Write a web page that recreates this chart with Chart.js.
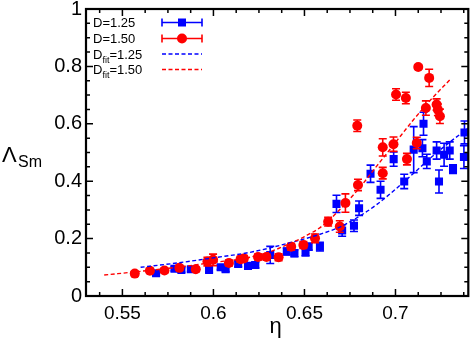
<!DOCTYPE html>
<html>
<head>
<meta charset="utf-8">
<script src="https://cdn.jsdelivr.net/npm/chart.js@4.4.0/dist/chart.umd.min.js"></script>
<style>
  html, body { margin: 0; padding: 0; background: #fff; }
  #wrap { position: relative; width: 474px; height: 342px; font-family: "Liberation Sans", Arial, Helvetica, sans-serif; color: #000; }
  .lbl { position: absolute; white-space: nowrap; }
  .key { position: absolute; left: 93px; height: 13px; font-size: 13px; line-height: 13px; white-space: nowrap; }
  .key span { font-size: 9px; position: relative; top: 4px; }
</style>
</head>
<body>
<div id="wrap">
<canvas id="myChart" width="474" height="342"></canvas>
<div class="lbl" style="left:255px; width:41px; top:315px; font-size:22px; line-height:22px; text-align:center;">η</div>
<div class="lbl" style="left:2px; top:144px; font-size:22px; line-height:22px;">Λ</div>
<div class="lbl" style="left:18px; top:154px; font-size:16px; line-height:16px;">Sm</div>
<div class="key" style="top:16px;">D=1.25</div>
<div class="key" style="top:32px;">D=1.50</div>
<div class="key" style="top:47.5px;">D<span>fit</span>=1.25</div>
<div class="key" style="top:63px;">D<span>fit</span>=1.50</div>
</div>
<script>
// D=1.25 (blue squares)
var blueX = [0.5685, 0.5786, 0.5824, 0.5876, 0.5976, 0.604, 0.6067, 0.6136, 0.619, 0.623,
             0.6312, 0.6403, 0.6445, 0.6506, 0.6523, 0.6585, 0.6676, 0.6707, 0.6772, 0.680,
             0.6863, 0.6918, 0.699, 0.7048, 0.710, 0.7148, 0.7154, 0.7172, 0.7226, 0.7239,
             0.7267, 0.7298, 0.7316, 0.7376, 0.7379];
var blueY = [0.079, 0.095, 0.091, 0.093, 0.091, 0.100, 0.093, 0.112, 0.105, 0.108,
             0.143, 0.155, 0.149, 0.152, 0.172, 0.172, 0.321, 0.228, 0.245, 0.306,
             0.426, 0.370, 0.477, 0.399, 0.510, 0.515, 0.600, 0.469, 0.507, 0.399,
             0.492, 0.507, 0.442, 0.484, 0.570];
var blueErr = [0.008, 0.008, 0.008, 0.008, 0.008, 0.008, 0.008, 0.01, 0.01, 0.01,
               0.03, 0.012, 0.012, 0.012, 0.012, 0.015, 0.03, 0.02, 0.02, 0.025,
               0.03, 0.03, 0.025, 0.025, 0.08, 0.03, 0.04, 0.025, 0.03, 0.04,
               0.04, 0.03, 0.015, 0.04, 0.04];

// D=1.50 (red circles)
var redX = [0.5568, 0.5651, 0.5731, 0.5813, 0.5903, 0.5967, 0.5998, 0.6085, 0.6149, 0.6167,
            0.6245, 0.6291, 0.6358, 0.6427, 0.6494, 0.6558, 0.663, 0.6694, 0.6725, 0.6794,
            0.679, 0.693, 0.693, 0.6989, 0.7003, 0.7057, 0.7063, 0.7117, 0.7125, 0.7167,
            0.7185, 0.7226, 0.7233, 0.7244];
var redY = [0.078, 0.088, 0.089, 0.098, 0.093, 0.120, 0.126, 0.115, 0.128, 0.131,
            0.136, 0.136, 0.135, 0.172, 0.178, 0.201, 0.259, 0.242, 0.324, 0.387,
            0.593, 0.428, 0.518, 0.529, 0.702, 0.690, 0.477, 0.533, 0.798, 0.655,
            0.760, 0.667, 0.649, 0.626];
var redErr = [0.008, 0.008, 0.008, 0.008, 0.008, 0.015, 0.02, 0.01, 0.01, 0.01,
              0.01, 0.01, 0.012, 0.012, 0.012, 0.015, 0.015, 0.02, 0.032, 0.02,
              0.02, 0.02, 0.03, 0.025, 0.02, 0.02, 0.02, 0.02, 0.008, 0.025,
              0.03, 0.02, 0.02, 0.025];

// fitted curves
var fitBlueX = [0.56, 0.58, 0.60, 0.62, 0.64, 0.66, 0.67, 0.68, 0.69, 0.70, 0.71, 0.72, 0.73, 0.74];
var fitBlueY = [0.100, 0.115, 0.133, 0.152, 0.182, 0.218, 0.242, 0.277, 0.320, 0.372, 0.428, 0.485, 0.537, 0.585];
var fitRedX = [0.54, 0.56, 0.58, 0.60, 0.617, 0.63, 0.64, 0.65, 0.66, 0.67, 0.68, 0.69, 0.70, 0.71, 0.72, 0.73];
var fitRedY = [0.073, 0.086, 0.100, 0.117, 0.131, 0.152, 0.177, 0.207, 0.245, 0.305, 0.375, 0.455, 0.535, 0.615, 0.688, 0.754];

var xTicks = [0.55, 0.6, 0.65, 0.7];
var yTicks = [0, 0.2, 0.4, 0.6, 0.8, 1];

var FONT = '"Liberation Sans", Arial, Helvetica, sans-serif';

function pairs(xs, ys) {
    return xs.map(function (v, i) { return { x: v, y: ys[i] }; });
}

// vertical error bars under each dataset's markers
var errorBars = {
    id: 'errorBars',
    beforeDatasetDraw: function (chart, args) {
        var ds = chart.data.datasets[args.index];
        if (!ds.errors) return;
        var c = chart.ctx;
        var ys = chart.scales.y;
        c.save();
        c.strokeStyle = ds.borderColor;
        c.lineWidth = 1.6;
        args.meta.data.forEach(function (pt, i) {
            var v = ds.data[i].y, e = ds.errors[i];
            var top = ys.getPixelForValue(v + e), bot = ys.getPixelForValue(v - e);
            c.beginPath();
            c.moveTo(pt.x, top); c.lineTo(pt.x, bot);
            c.moveTo(pt.x - 4, top); c.lineTo(pt.x + 4, top);
            c.moveTo(pt.x - 4, bot); c.lineTo(pt.x + 4, bot);
            c.stroke();
        });
        c.restore();
    }
};

// box with inward ticks on all sides, plus the key samples
var overlay = {
    id: 'overlay',
    afterDraw: function (chart) {
        var a = chart.chartArea, c = chart.ctx;
        var xs = chart.scales.x, ys = chart.scales.y;
        c.save();
        c.strokeStyle = 'black';
        c.lineWidth = 2.2;
        c.strokeRect(a.left, a.top, a.right - a.left, a.bottom - a.top);
        c.lineWidth = 1.5;
        c.beginPath();
        var k, p, len;
        for (k = 0; k <= 16; k++) {
            p = xs.getPixelForValue(0.5375 + k * 0.0125);
            len = (k % 4 === 1) ? 7 : 4;
            c.moveTo(p, a.bottom); c.lineTo(p, a.bottom - len);
            c.moveTo(p, a.top); c.lineTo(p, a.top + len);
        }
        for (k = 1; k < 20; k++) {
            p = ys.getPixelForValue(k * 0.05);
            len = (k % 4 === 0) ? 7 : 4;
            c.moveTo(a.left, p); c.lineTo(a.left + len, p);
            c.moveTo(a.right, p); c.lineTo(a.right - len, p);
        }
        c.stroke();

        var rows = [22.5, 38.5, 54, 69.5];
        var lx0 = 162, lx1 = 202, lxm = 182;
        [['blue', rows[0]], ['red', rows[1]]].forEach(function (s) {
            c.strokeStyle = s[0];
            c.lineWidth = 1.6;
            c.beginPath();
            c.moveTo(lx0, s[1]); c.lineTo(lx1, s[1]);
            c.moveTo(lx0, s[1] - 4); c.lineTo(lx0, s[1] + 4);
            c.moveTo(lx1, s[1] - 4); c.lineTo(lx1, s[1] + 4);
            c.stroke();
        });
        c.fillStyle = 'blue';
        c.fillRect(lxm - 4, rows[0] - 4, 8, 8);
        c.fillStyle = 'red';
        c.beginPath();
        c.arc(lxm, rows[1], 5, 0, Math.PI * 2);
        c.fill();
        c.lineWidth = 1.4;
        c.setLineDash([4, 2.5]);
        c.strokeStyle = 'blue';
        c.beginPath(); c.moveTo(lx0, rows[2]); c.lineTo(lx1, rows[2]); c.stroke();
        c.strokeStyle = 'red';
        c.beginPath(); c.moveTo(lx0, rows[3]); c.lineTo(lx1, rows[3]); c.stroke();
        c.setLineDash([]);
        c.restore();
    }
};

var chart = new Chart(document.getElementById('myChart').getContext('2d'), {
    type: 'scatter',
    data: {
        datasets: [{
            data: pairs(blueX, blueY),
            errors: blueErr,
            pointStyle: 'rect',
            pointRadius: 5.7,
            backgroundColor: 'blue',
            borderColor: 'blue',
            borderWidth: 0,
            order: 4
        }, {
            data: pairs(redX, redY),
            errors: redErr,
            pointStyle: 'circle',
            pointRadius: 5,
            backgroundColor: 'red',
            borderColor: 'red',
            borderWidth: 0,
            order: 3
        }, {
            data: pairs(fitBlueX, fitBlueY),
            type: 'line',
            showLine: true,
            pointRadius: 0,
            borderColor: 'blue',
            borderWidth: 1.4,
            borderDash: [4, 2.5],
            cubicInterpolationMode: 'monotone',
            fill: false,
            order: 2
        }, {
            data: pairs(fitRedX, fitRedY),
            type: 'line',
            showLine: true,
            pointRadius: 0,
            borderColor: 'red',
            borderWidth: 1.4,
            borderDash: [4, 2.5],
            cubicInterpolationMode: 'monotone',
            fill: false,
            order: 1
        }]
    },
    options: {
        responsive: false,
        animation: false,
        layout: { padding: { top: 9, right: 0, left: 0, bottom: 0 } },
        plugins: { legend: { display: false }, tooltip: { enabled: false } },
        scales: {
            x: {
                type: 'linear', min: 0.53, max: 0.74,
                grid: { display: false, drawTicks: false },
                border: { display: false },
                afterBuildTicks: function (scale) {
                    scale.ticks = xTicks.map(function (v) { return { value: v }; });
                },
                afterFit: function (s) { s.height = 46; s.paddingLeft = 0; s.paddingRight = 0; },
                ticks: { padding: 6, color: '#000', font: { family: FONT, size: 19 }, maxRotation: 0,
                         callback: function (v) { return String(v); } }
            },
            y: {
                type: 'linear', min: 0, max: 1,
                grid: { display: false, drawTicks: false },
                border: { display: false },
                afterBuildTicks: function (scale) {
                    scale.ticks = yTicks.map(function (v) { return { value: v }; });
                },
                afterFit: function (s) { s.width = 86; s.paddingTop = 0; s.paddingBottom = 0; },
                ticks: { padding: 4, color: '#000', font: { family: FONT, size: 20 },
                         callback: function (v) { return String(v); } }
            }
        }
    },
    plugins: [errorBars, overlay]
});
</script>
</body>
</html>
